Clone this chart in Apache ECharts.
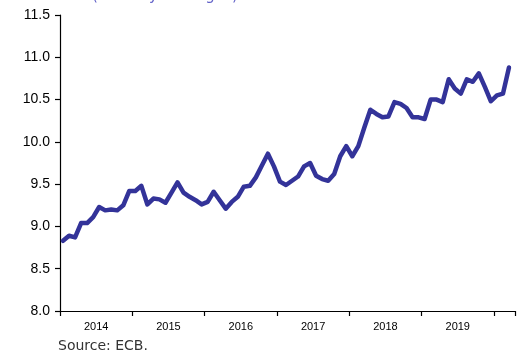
<!DOCTYPE html>
<html>
<head>
<meta charset="utf-8">
<script src="https://cdn.jsdelivr.net/npm/echarts@6/dist/echarts.min.js"></script>
<style>
  html, body { margin: 0; padding: 0; background: #fff; }
  #chart { width: 518px; height: 356px; }
</style>
</head>
<body>
<div id="chart"></div>
<script>
// Monthly observations, Jan 2014 to Mar 2020
const months = [
  '2014-01','2014-02','2014-03','2014-04','2014-05','2014-06','2014-07','2014-08','2014-09','2014-10','2014-11','2014-12',
  '2015-01','2015-02','2015-03','2015-04','2015-05','2015-06','2015-07','2015-08','2015-09','2015-10','2015-11','2015-12',
  '2016-01','2016-02','2016-03','2016-04','2016-05','2016-06','2016-07','2016-08','2016-09','2016-10','2016-11','2016-12',
  '2017-01','2017-02','2017-03','2017-04','2017-05','2017-06','2017-07','2017-08','2017-09','2017-10','2017-11','2017-12',
  '2018-01','2018-02','2018-03','2018-04','2018-05','2018-06','2018-07','2018-08','2018-09','2018-10','2018-11','2018-12',
  '2019-01','2019-02','2019-03','2019-04','2019-05','2019-06','2019-07','2019-08','2019-09','2019-10','2019-11','2019-12',
  '2020-01','2020-02','2020-03'
];
const values = [
  8.83, 8.89, 8.87, 9.04, 9.04, 9.11, 9.23, 9.19, 9.20, 9.19, 9.25, 9.42,
  9.42, 9.48, 9.26, 9.33, 9.32, 9.28, 9.40, 9.52, 9.40, 9.35, 9.31, 9.26,
  9.29, 9.41, 9.31, 9.21, 9.29, 9.35, 9.47, 9.48, 9.58, 9.72, 9.86, 9.71,
  9.53, 9.49, 9.54, 9.59, 9.71, 9.75, 9.60, 9.56, 9.54, 9.62, 9.83, 9.95,
  9.83, 9.95, 10.17, 10.38, 10.33, 10.29, 10.30, 10.47, 10.45, 10.40, 10.29, 10.29,
  10.27, 10.50, 10.50, 10.47, 10.74, 10.63, 10.57, 10.74, 10.71, 10.81, 10.65, 10.48,
  10.55, 10.57, 10.88
];
const years = ['2014', '2015', '2016', '2017', '2018', '2019'];
const yTicks = [8.0, 8.5, 9.0, 9.5, 10.0, 10.5, 11.0, 11.5];
const firstYear = 2014;

// Month offset from Jan 2014, plotted at mid-month
function monthPos(s) {
  const [y, m] = s.split('-').map(Number);
  return (y - firstYear) * 12 + (m - 1) + 0.5;
}
const seriesData = months.map((m, i) => [monthPos(m), values[i]]);

const axisMax = 75.5;
const chart = echarts.init(document.getElementById('chart'), null, { renderer: 'canvas' });
chart.setOption({
  animation: false,
  backgroundColor: '#ffffff',
  grid: { left: 60, right: 0, top: 15, bottom: 45, containLabel: false },
  xAxis: [
    {
      type: 'value', min: 0, max: axisMax, interval: 12,
      axisLine: { show: true, lineStyle: { color: '#000', width: 1.2 } },
      axisTick: { show: true, length: 5, lineStyle: { color: '#000', width: 1.2 } },
      axisLabel: { show: false },
      splitLine: { show: false }
    },
    {
      type: 'value', min: 0, max: axisMax, interval: 6, position: 'bottom',
      axisLine: { show: false }, axisTick: { show: false }, splitLine: { show: false },
      axisLabel: {
        show: true, margin: 10, color: '#000',
        fontFamily: 'Liberation Sans', fontSize: 11,
        formatter: v => (Math.round(v) % 12 === 6 ? (years[Math.floor(v / 12)] || '') : '')
      }
    }
  ],
  yAxis: {
    type: 'value', min: yTicks[0], max: yTicks[yTicks.length - 1], interval: 0.5,
    axisLine: { show: true, lineStyle: { color: '#000', width: 1.2 } },
    axisTick: { show: true, length: 5, lineStyle: { color: '#000', width: 1.2 } },
    splitLine: { show: false },
    axisLabel: {
      color: '#000', fontFamily: 'Liberation Sans', fontSize: 14, margin: 10,
      formatter: v => v.toFixed(1)
    }
  },
  series: [{
    type: 'line',
    xAxisIndex: 0,
    data: seriesData,
    showSymbol: false,
    lineStyle: { color: '#333399', width: 4.5, join: 'round', cap: 'round' },
    itemStyle: { color: '#333399' }
  }],
  graphic: [
    {
      type: 'text', left: 92, top: -11,
      style: { text: '(Monthly averages)', fill: '#6262c8', font: '15px "DejaVu Sans"' }
    },
    {
      type: 'text', left: 58, top: 339,
      style: { text: 'Source: ECB.', fill: '#333', font: '14px "DejaVu Sans"' }
    }
  ]
});
</script>
</body>
</html>
